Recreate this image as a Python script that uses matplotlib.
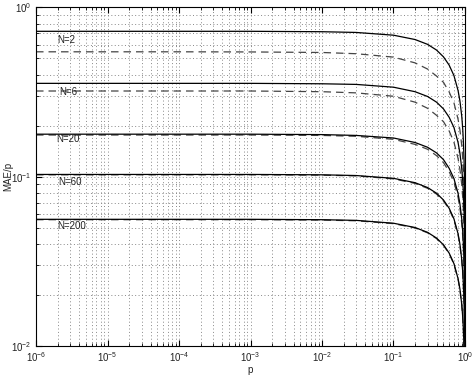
import matplotlib
matplotlib.use("Agg")
import matplotlib.pyplot as plt
from matplotlib.ticker import LogLocator, NullFormatter

plt.rcParams['font.family'] = ['Liberation Sans', 'DejaVu Sans']
plt.rcParams['mathtext.default'] = 'regular'

p = [1e-6, 1e-4, 1e-3, 1e-2, 0.03, 0.1, 0.2, 0.3, 0.4, 0.5, 0.6, 0.7, 0.8, 0.85,
     0.9, 0.93, 0.95, 0.97, 0.98, 0.99, 0.995, 0.998, 0.999, 0.9995, 0.9999]

n2_solid = [0.720, 0.720, 0.720, 0.716, 0.709, 0.683, 0.644, 0.603, 0.558, 0.509, 0.455,
            0.395, 0.322, 0.279, 0.228, 0.191, 0.161, 0.125, 0.102, 0.072, 0.051, 0.032,
            0.023, 0.016, 0.0072]
n2_dash = [0.545, 0.545, 0.544, 0.540, 0.531, 0.507, 0.469, 0.431, 0.392, 0.360, 0.316,
           0.273, 0.218, 0.188, 0.153, 0.128, 0.108, 0.083, 0.068, 0.048, 0.034, 0.021,
           0.015, 0.011, 0.0049]
n6_solid = [0.355, 0.355, 0.355, 0.353, 0.350, 0.337, 0.317, 0.297, 0.275, 0.251, 0.224,
            0.195, 0.159, 0.137, 0.112, 0.094, 0.080, 0.061, 0.050, 0.0355, 0.0251, 0.0159,
            0.0112, 0.0080, 0.0036]
n6_dash = [0.320, 0.320, 0.320, 0.317, 0.312, 0.298, 0.275, 0.253, 0.230, 0.211, 0.186,
           0.160, 0.128, 0.110, 0.090, 0.075, 0.063, 0.049, 0.040, 0.028, 0.020, 0.0125,
           0.009, 0.0064, 0.0029]
n20_solid = [0.178, 0.178, 0.178, 0.177, 0.175, 0.169, 0.159, 0.149, 0.138, 0.126, 0.112,
             0.0975, 0.0796, 0.0689, 0.0563, 0.0472, 0.0399, 0.0308, 0.0251, 0.0178, 0.0126,
             0.0080, 0.0056, 0.0040, 0.0018]
n20_dash = [0.176, 0.176, 0.176, 0.175, 0.173, 0.166, 0.155, 0.145, 0.133, 0.121, 0.107,
            0.093, 0.0755, 0.065, 0.053, 0.0445, 0.0376, 0.029, 0.0237, 0.0168, 0.0119,
            0.0075, 0.0053, 0.0038, 0.0017]
n60_solid = [0.103, 0.103, 0.103, 0.1025, 0.1015, 0.0977, 0.0921, 0.0862, 0.0798, 0.0728,
             0.0651, 0.0564, 0.0460, 0.0399, 0.0325, 0.0273, 0.0231, 0.0178, 0.0145, 0.0103,
             0.0073, 0.0046, 0.0033, 0.0023, 0.001]
n60_dash = [0.1025, 0.1025, 0.1025, 0.102, 0.101, 0.0970, 0.0912, 0.0853, 0.0789, 0.0719,
            0.0642, 0.0556, 0.0453, 0.0392, 0.0320, 0.0268, 0.0227, 0.0175, 0.0143, 0.0101,
            0.0072, 0.0045, 0.0032, 0.0023, 0.001]
n200_solid = [0.056, 0.056, 0.056, 0.0557, 0.0552, 0.0531, 0.0501, 0.0469, 0.0434, 0.0396,
              0.0354, 0.0307, 0.0250, 0.0217, 0.0177, 0.0148, 0.0125, 0.0097, 0.0079, 0.0056,
              0.0040, 0.0025, 0.0018, 0.0013, 0.00056]
n200_dash = [0.0557, 0.0557, 0.0557, 0.0554, 0.0549, 0.0528, 0.0498, 0.0466, 0.0431, 0.0393,
             0.0351, 0.0305, 0.0248, 0.0215, 0.0175, 0.0147, 0.0124, 0.0096, 0.0078, 0.0055,
             0.0039, 0.0025, 0.0018, 0.0012, 0.00055]

labels = ["N=2", "N=6", "N=20", "N=60", "N=200"]
label_p = [2.0e-6, 2.1e-6, 1.9e-6, 2.05e-6, 2.0e-6]
label_v = [0.638, 0.315, 0.166, 0.093, 0.051]

fig = plt.figure(figsize=(4.74, 3.75), dpi=100)
ax = fig.add_axes([0.076, 0.077, 0.905, 0.904])

for s, d in [(n2_solid, n2_dash), (n6_solid, n6_dash), (n20_solid, n20_dash),
             (n60_solid, n60_dash), (n200_solid, n200_dash)]:
    ax.plot(p, d, color='#444444', lw=0.9, ls=(0, (6, 4)))
    ax.plot(p, s, color='black', lw=0.9)

for t, x, y in zip(labels, label_p, label_v):
    ax.text(x, y, t, fontsize=7, va='center', ha='left', color='#222222')

ax.set_xscale('log')
ax.set_yscale('log')
ax.set_xlim(1e-6, 1)
ax.set_ylim(1e-2, 1)
ax.xaxis.set_major_locator(LogLocator(base=10, numticks=10))
ax.xaxis.set_minor_locator(LogLocator(base=10, subs=range(2, 10), numticks=20))
ax.xaxis.set_minor_formatter(NullFormatter())
ax.yaxis.set_minor_locator(LogLocator(base=10, subs=range(2, 10), numticks=20))
ax.yaxis.set_minor_formatter(NullFormatter())

ax.grid(True, which='both', ls=(0, (1, 2.5)), color='#888888', lw=0.7)
ax.tick_params(which='both', direction='in', top=True, right=True, labelsize=7,
               labelcolor='#222222')
ax.tick_params(which='major', length=4, pad=3)
ax.tick_params(which='minor', length=2)
for sp in ax.spines.values():
    sp.set_linewidth(0.8)

ax.set_xlabel('p', fontsize=7, color='#222222')
ax.set_ylabel('MAE/p', fontsize=7, color='#222222')
ax.xaxis.set_label_coords(0.5, -0.057)
ax.yaxis.set_label_coords(-0.054, 0.5)

fig.savefig('out.png', dpi=100)
